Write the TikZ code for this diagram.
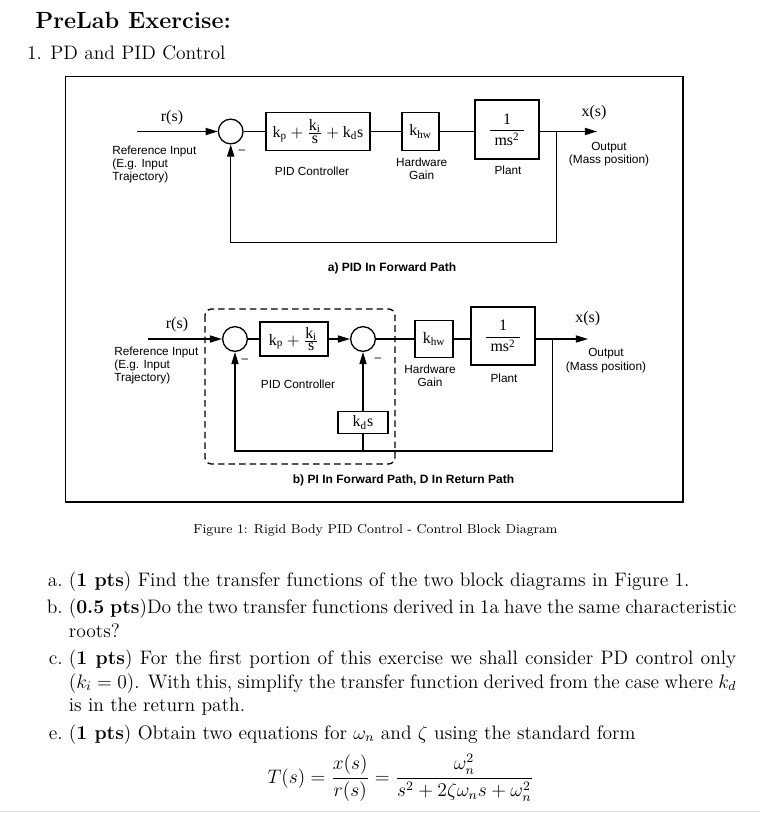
\RequirePackage{fix-cm}
\documentclass[tikz,border=0pt]{standalone}
\usepackage{amsmath}
\usepackage{fontspec}
\newfontfamily\sansf{Liberation Sans}
\newfontfamily\tms{Liberation Serif}
\usetikzlibrary{arrows.meta}
\newlength\pxu \setlength\pxu{0.615pt}
\newcommand\tm[1]{\text{\tms #1}}
\newcommand\kifrac{\frac{\textstyle\tm{k}_{\tm{i}}}{\textstyle\tm{s}}}
\tikzset{
 wire/.style={line width=0.8pt},
 arr/.style={wire, -{Triangle[length=7.5pt,width=4.4pt]}},
 blk/.style={draw, line width=0.8pt, inner sep=0, font=\tms\fontsize{9.8}{11}\selectfont},
 sumjn/.style={draw, circle, line width=0.8pt, minimum size=15.2pt, inner sep=0},
 lbl/.style={font=\sansf\fontsize{7.26}{8.2}\selectfont, inner sep=0},
 sig/.style={font=\tms\fontsize{9.8}{11}\selectfont, inner sep=0},
 capt/.style={font=\sansf\bfseries\fontsize{7.4}{9}\selectfont, inner sep=0},
 body/.style={font=\fontsize{12}{14.5}\selectfont, inner sep=0},
}
\begin{document}
\begin{tikzpicture}[x=0.615pt,y=-0.615pt]
\useasboundingbox (0,0) rectangle (759,813);
\fill[white] (0,0) rectangle (759,813);

% headings
\node[anchor=base west, inner sep=0, font=\fontsize{14.4}{18}\selectfont\bfseries] (title) at (35,28.3) {PreLab Exercise:};
\node[body, anchor=base west] (sec) at (26.7,60) {1. PD and PID Control};

% frame
\draw[line width=0.9pt] (65.5,76.5) rectangle (683,502);

% ---------- part a ----------
\node[sumjn] (sa) at (230.7,131.5) {};
\node[blk, minimum width=104\pxu, minimum height=38\pxu] (pida) at (318,131.5)
  {$\tm{k}_{\tm{p}}+\kifrac+\tm{k}_{\tm{d}}\tm{s}$};
\node[blk, minimum width=37\pxu, minimum height=38\pxu] (khwa) at (420.5,131.5) {$\tm{k}_{\tm{hw}}$};
\node[blk, minimum width=64\pxu, minimum height=59\pxu] (planta) at (507,129.5)
  {$\displaystyle\frac{\tm{1}}{\;\tm{ms}^{\tm{2}}\;}$};
\coordinate (ina) at (137,131.5);
\coordinate (bra) at (556.7,131.5);
\coordinate (outa) at (597,131.5);
\coordinate (fba) at (556.7,242.7);
\draw[arr] (ina) -- (sa.west);
\draw[wire] (sa.east) -- (pida.west);
\draw[wire] (pida.east) -- (khwa.west);
\draw[wire] (khwa.east) -- (khwa.east -| planta.west);
\draw[wire] (planta.east |- bra) -- (bra);
\draw[arr] (bra) -- (outa);
\draw[arr] (bra) -- (fba) -| (sa.south);

\node[sig] (ra) at (172,118) {r(s)};
\node[sig] (xa) at (594,112.7) {x(s)};
\node[lbl, anchor=west, align=left] (refa) at (112,164.3) {Reference Input\\(E.g. Input\\Trajectory)};
\node[lbl] (pidla) at (312,171) {PID Controller};
\node[lbl, align=center] (hwa) at (421.7,168.5) {Hardware\\Gain};
\node[lbl] (pla) at (508,170.7) {Plant};
\node[lbl, align=center] (oa) at (609,154) {Output\\(Mass position)};
\node[lbl] (ma) at (242,152) {–};
\node[capt] (capa) at (392,268) {a) PID In Forward Path};

% ---------- part b ----------
\draw[wire, dash pattern=on 4pt off 2.5pt, rounded corners=4pt] (205,309) rectangle (395,464);
\node[sumjn] (s1b) at (235,339) {};
\node[blk, minimum width=68\pxu, minimum height=34\pxu] (pib) at (294,339)
  {$\tm{k}_{\tm{p}}+\kifrac$};
\node[sumjn] (s2b) at (363,339) {};
\node[blk, minimum width=38\pxu, minimum height=37\pxu] (khwb) at (434,339) {$\tm{k}_{\tm{hw}}$};
\node[blk, minimum width=64\pxu, minimum height=58\pxu] (plantb) at (503,336)
  {$\displaystyle\frac{\tm{1}}{\;\tm{ms}^{\tm{2}}\;}$};
\node[blk, minimum width=50\pxu, minimum height=22\pxu] (kdsb) at (363,422.5) {$\tm{k}_{\tm{d}}\tm{s}$};
\coordinate (inb) at (148,339);
\coordinate (brb) at (552.7,339);
\coordinate (outb) at (588,339);
\coordinate (fbb) at (552.7,451);
\coordinate (kdb) at (363,451);
\draw[arr] (inb) -- (s1b.west);
\draw[wire] (s1b.east) -- (pib.west);
\draw[arr] (pib.east) -- (s2b.west);
\draw[wire] (s2b.east) -- (khwb.west);
\draw[wire] (khwb.east) -- (khwb.east -| plantb.west);
\draw[wire] (plantb.east |- brb) -- (brb);
\draw[arr] (brb) -- (outb);
\draw[arr] (brb) -- (fbb) -| (s1b.south);
\draw[wire] (kdb) -- (kdsb.south);
\draw[arr] (kdsb.north) -- (s2b.south);

\node[sig] (rb) at (177,325) {r(s)};
\node[sig] (xb) at (587.7,319) {x(s)};
\node[lbl, anchor=west, align=left] (refb) at (114,365.5) {Reference Input\\(E.g. Input\\Trajectory)};
\node[lbl] (m1b) at (245,360.7) {–};
\node[lbl] (m2b) at (378,360) {–};
\node[lbl] (pidlb) at (298,384) {PID Controller};
\node[lbl, align=center] (hwb) at (430,375.5) {Hardware\\Gain};
\node[lbl] (plb) at (504,378) {Plant};
\node[lbl, align=center] (ob) at (606,360.5) {Output\\(Mass position)};
\node[capt] (capb) at (403.5,480) {b) PI In Forward Path, D In Return Path};

% figure caption
\node[font=\fontsize{8}{10}\selectfont, inner sep=0] (figcap) at (375.5,530) {Figure 1: Rigid Body PID Control - Control Block Diagram};

% questions
\node[body, anchor=base east] (la) at (63,586) {a.};
\node[body, anchor=base west] (ta) at (68.5,586) {(\textbf{1 pts}) Find the transfer functions of the two block diagrams in Figure 1.};
\node[body, anchor=base east] (lb) at (63,613.5) {b.};
\node[body, anchor=base west] (tb1) at (68.5,613.5) {\makebox[410.5pt][s]{(\textbf{0.5 pts})Do the two transfer functions derived in 1a have the same characteristic}};
\node[body, anchor=base west] (tb2) at (68.5,637) {roots?};
\node[body, anchor=base east] (lc) at (63,664.5) {c.};
\node[body, anchor=base west] (tc1) at (68.5,664.5) {\makebox[410.5pt][s]{(\textbf{1 pts}) For the first portion of this exercise we shall consider PD control only}};
\node[body, anchor=base west] (tc2) at (68.5,688) {\makebox[410.5pt][s]{$(k_i=0)$. With this, simplify the transfer function derived from the case where $k_d$}};
\node[body, anchor=base west] (tc3) at (68.5,711.6) {is in the return path.};
\node[body, anchor=base east] (le) at (63,739) {e.};
\node[body, anchor=base west] (te) at (68.5,739) {(\textbf{1 pts}) Obtain two equations for $\omega_n$ and $\zeta$ using the standard form};
\node[body, anchor=base] (eq) at (400.5,783) {$\displaystyle T(s)=\frac{x(s)}{r(s)}=\frac{\omega_n^2}{s^2+2\zeta\omega_n s+\omega_n^2}$};

\draw[line width=1.2pt, black!12] (0,811.5) -- (759,811.5);
\end{tikzpicture}
\end{document}
